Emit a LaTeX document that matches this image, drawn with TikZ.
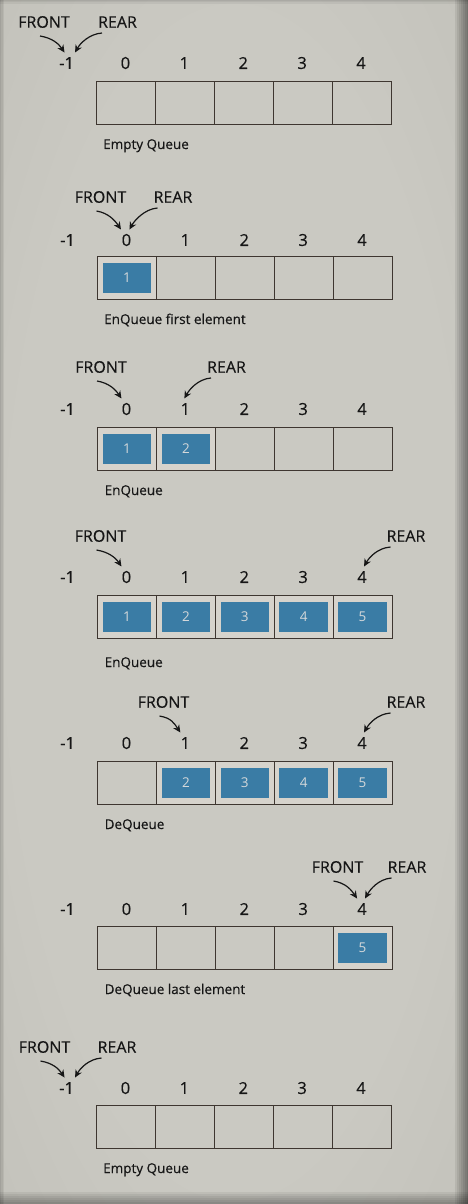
\documentclass[tikz,border=0pt]{standalone}
\usepackage{fontspec}
\setmainfont{Open Sans}[BoldFont={Open Sans}, BoldFeatures={FakeBold=0.35}]
\usetikzlibrary{arrows.meta}
\definecolor{bgA}{HTML}{CAC9C2}
\definecolor{bgB}{HTML}{C1C0B9}
\definecolor{bgC}{HTML}{ADACA6}
\definecolor{bgD}{HTML}{8E8D88}
\definecolor{txt}{HTML}{161616}
\definecolor{frame}{HTML}{3E3630}
\definecolor{cellfill}{HTML}{D6D3CC}
\definecolor{blueq}{HTML}{3A7CA5}
\definecolor{itemtxt}{HTML}{D4D8DA}
\pgfdeclareradialshading{vig}{\pgfpoint{0bp}{0bp}}{color(0bp)=(bgA); color(24bp)=(bgA); color(40bp)=(bgB); color(50bp)=(bgC); color(72bp)=(bgD)}
\newcommand\qcells[3]{\foreach \c in {0,...,4} \node[cellbox] (#1c\c) at ({#2+58.9*\c},#3) {};}
\newcommand\qindex[3]{\foreach \k [evaluate=\k as \lab using int(\k-1)] in {0,...,5} \node[idx] (#1i\k) at ({#2-29.45+58.9*\k},#3) {\lab};}
\newcommand\qfill[4]{\node[cellbox,draw=none,fill=cellfill] (#1f#2) at ({#3+58.9*#2},#4) {};}
\newcommand\qitem[3]{\node[item] (#1b#2) at (#1c#2.center) {#3};}
\newcommand\frontarrow[3]{\draw[arr] ([xshift=-4pt,yshift=-14pt]#1.center) .. controls +(12,2) and +(-6,-9) .. ([xshift=#3pt,yshift=10.5pt]#2.center);}
\newcommand\reararrow[3]{\draw[arr] ([xshift=-15.5pt,yshift=-11pt]#1.center) .. controls +(-13,1) and +(5,-9) .. ([xshift=#3pt,yshift=10.5pt]#2.center);}
\begin{document}
\begin{tikzpicture}[x=1pt,y=-1pt,
  lbl/.style={font=\fontsize{16}{19}\selectfont\bfseries, text=txt, inner sep=0pt},
  idx/.style={font=\fontsize{16.5}{19}\selectfont\bfseries, text=txt, inner sep=0pt},
  captxt/.style={font=\fontsize{13.5}{16}\selectfont\bfseries, text=txt, inner sep=0pt, anchor=base west},
  cellbox/.style={draw=frame, line width=1.1pt, minimum width=58.9pt, minimum height=43pt, inner sep=0pt, anchor=north west},
  item/.style={fill=blueq, minimum width=48.5pt, minimum height=30.5pt, inner sep=0pt, text=itemtxt, font=\fontsize{13.5}{16}\selectfont},
  arr/.style={draw=txt, line width=1.2pt, -{Stealth[length=7.5pt,width=7pt]}}]
\useasboundingbox (0,0) rectangle (468,1204);
\shade[shading=vig] (0,0) rectangle (468,1204);
\foreach \i in {0,...,6} \fill[black,opacity=0.07] ({455+2*\i},0) rectangle (468,1204);
\foreach \i in {0,...,5} \fill[black,opacity=0.06] (0,{1192+2*\i}) rectangle (468,1204);
\foreach \i in {0,...,2} \fill[black,opacity=0.06] (0,0) rectangle ({1+1.5*\i},1204);
\foreach \i in {0,...,2} \fill[black,opacity=0.05] (0,0) rectangle (468,{1+1.5*\i});
% ---------- panel 1
\qcells{pa}{96}{81}
\qindex{pa}{96}{63}
\node[lbl] (paF) at (44,22) {FRONT};
\node[lbl] (paR) at (117.5,22) {REAR};
\frontarrow{paF}{pai0}{-2}
\reararrow{paR}{pai0}{8.5}
\node[captxt] (paT) at (103,149) {Empty Queue};
% ---------- panel 2
\qfill{pb}{0}{97}{256}
\qcells{pb}{97}{256}
\qitem{pb}{0}{1}
\qindex{pb}{97}{240}
\node[lbl] (pbF) at (100.5,197) {FRONT};
\node[lbl] (pbR) at (173,197) {REAR};
\frontarrow{pbF}{pbi1}{-5.5}
\reararrow{pbR}{pbi1}{3}
\node[captxt] (pbT) at (104,324) {EnQueue first element};
% ---------- panel 3
\qfill{pc}{0}{97}{427}
\qfill{pc}{1}{97}{427}
\qcells{pc}{97}{427}
\qitem{pc}{0}{1}
\qitem{pc}{1}{2}
\qindex{pc}{97}{409}
\node[lbl] (pcF) at (101,367) {FRONT};
\node[lbl] (pcR) at (226.5,367) {REAR};
\frontarrow{pcF}{pci1}{-5}
\reararrow{pcR}{pci2}{-1}
\node[captxt] (pcT) at (104.5,495) {EnQueue};
% ---------- panel 4
\foreach \j in {0,...,4} {\qfill{pd}{\j}{97}{595}}
\qcells{pd}{97}{595}
\qitem{pd}{0}{1}
\qitem{pd}{1}{2}
\qitem{pd}{2}{3}
\qitem{pd}{3}{4}
\qitem{pd}{4}{5}
\qindex{pd}{97}{577}
\node[lbl] (pdF) at (100.5,536) {FRONT};
\node[lbl] (pdR) at (406,536) {REAR};
\frontarrow{pdF}{pdi1}{-5}
\reararrow{pdR}{pdi5}{2}
\node[captxt] (pdT) at (104.5,667) {EnQueue};
% ---------- panel 5
\foreach \j in {1,...,4} {\qfill{pe}{\j}{97}{761}}
\qcells{pe}{97}{761}
\qitem{pe}{1}{2}
\qitem{pe}{2}{3}
\qitem{pe}{3}{4}
\qitem{pe}{4}{5}
\qindex{pe}{97}{743}
\node[lbl] (peF) at (163.5,702) {FRONT};
\node[lbl] (peR) at (406,702) {REAR};
\frontarrow{peF}{pei2}{-5}
\reararrow{peR}{pei5}{2}
\node[captxt] (peT) at (104.5,829) {DeQueue};
% ---------- panel 6
\qfill{pf}{4}{97}{926}
\qcells{pf}{97}{926}
\qitem{pf}{4}{5}
\qindex{pf}{97}{909}
\node[lbl] (pfF) at (337.5,867) {FRONT};
\node[lbl] (pfR) at (407,867) {REAR};
\frontarrow{pfF}{pfi5}{-5}
\reararrow{pfR}{pfi5}{3}
\node[captxt] (pfT) at (104.5,994) {DeQueue last element};
% ---------- panel 7
\qcells{pg}{96}{1105}
\qindex{pg}{96}{1088}
\node[lbl] (pgF) at (44.5,1047) {FRONT};
\node[lbl] (pgR) at (117,1047) {REAR};
\frontarrow{pgF}{pgi0}{-2}
\reararrow{pgR}{pgi0}{8.5}
\node[captxt] (pgT) at (103,1173) {Empty Queue};
\end{tikzpicture}
\end{document}
